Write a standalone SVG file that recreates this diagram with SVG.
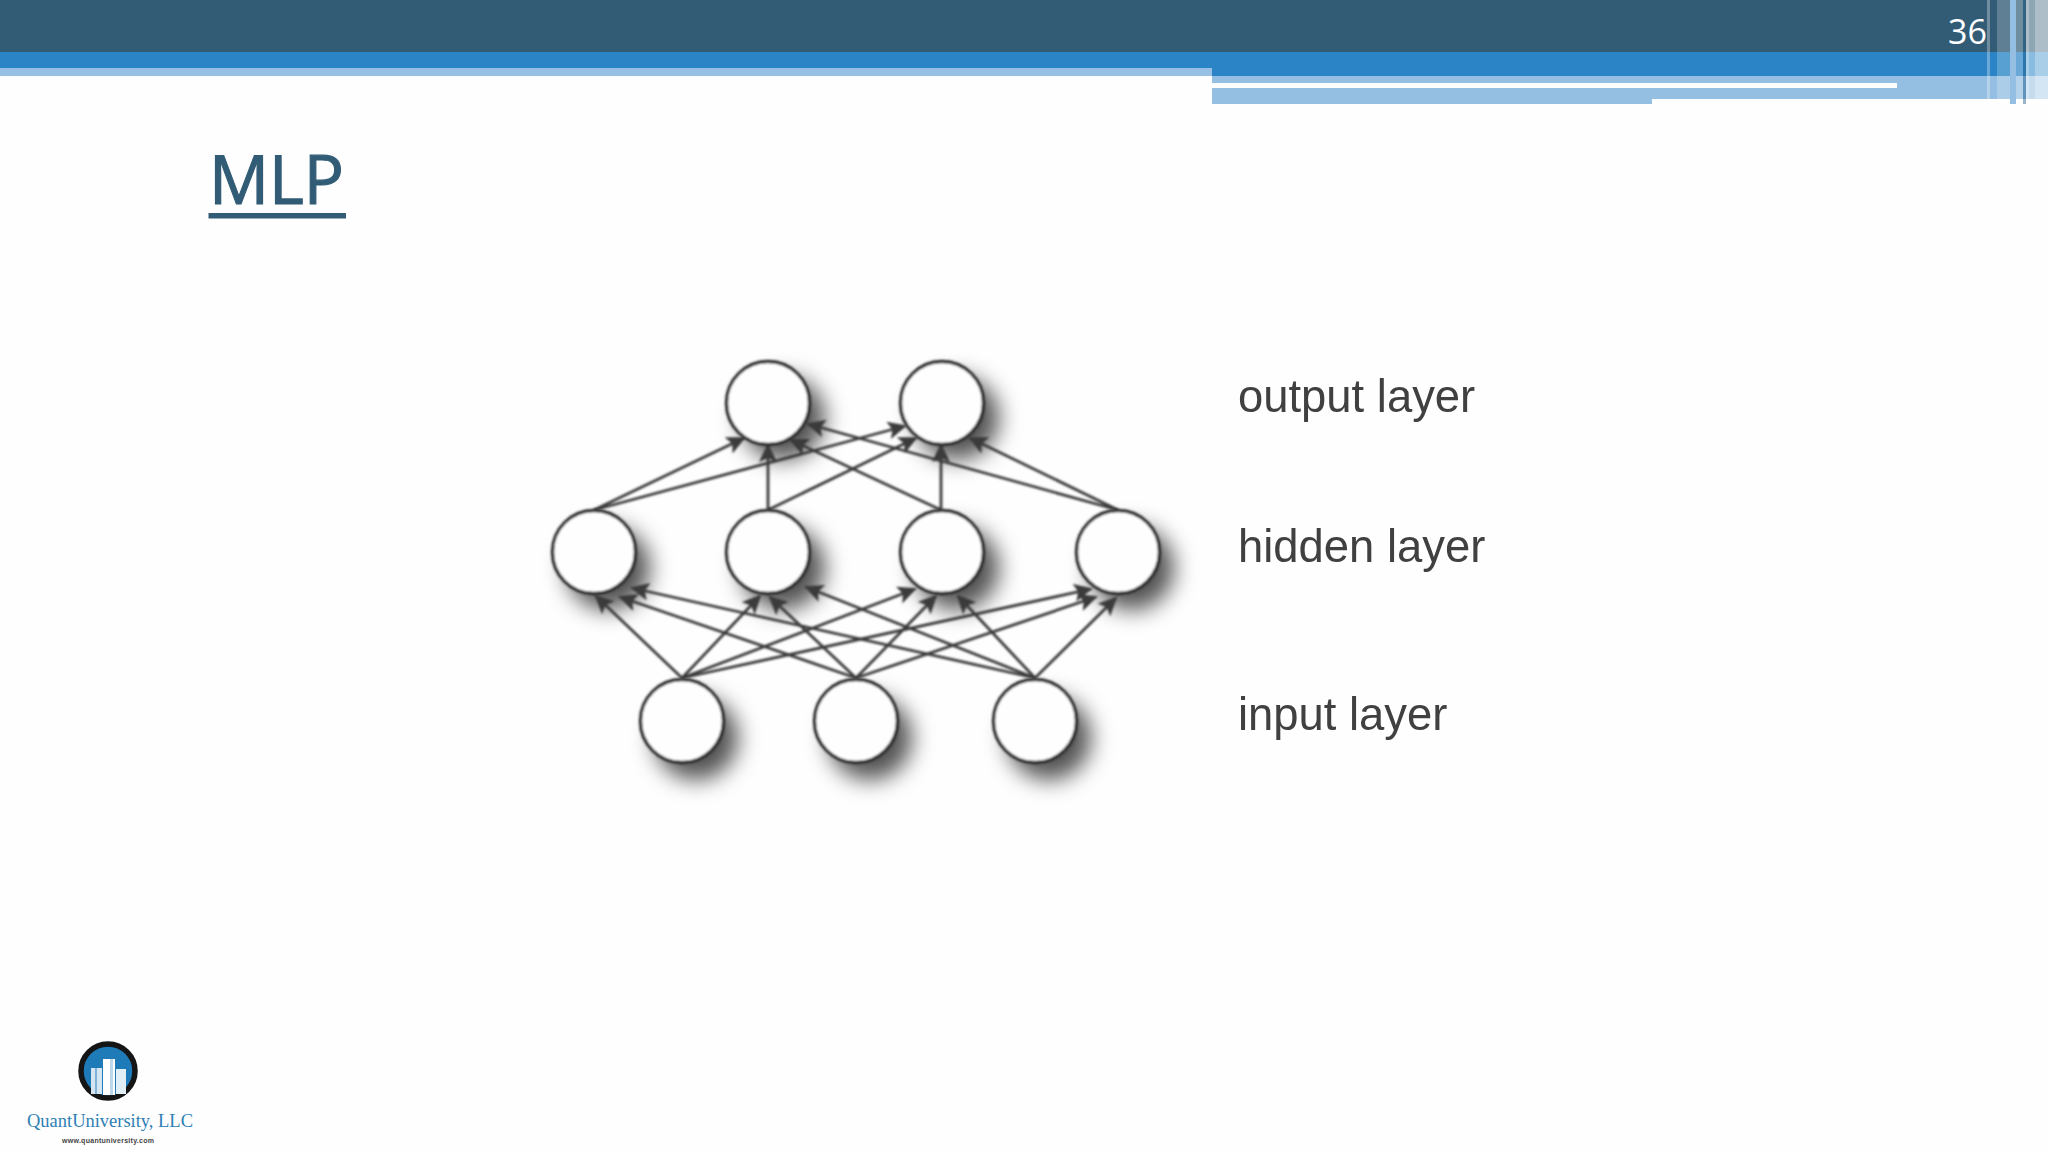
<svg xmlns="http://www.w3.org/2000/svg" width="2048" height="1152" viewBox="0 0 2048 1152">
<defs>
<filter id="sh" x="-60%" y="-60%" width="220%" height="220%"><feGaussianBlur stdDeviation="11"/></filter>
<filter id="soft" x="-10%" y="-10%" width="120%" height="120%"><feGaussianBlur stdDeviation="0.8"/></filter>
<filter id="softT" x="-5%" y="-20%" width="110%" height="140%"><feGaussianBlur stdDeviation="0.7"/></filter>
<marker id="ah" markerUnits="userSpaceOnUse" markerWidth="22" markerHeight="20" refX="17" refY="9" orient="auto"><path d="M0 0L19 9L0 18L4 9Z" fill="#3a3a3a"/></marker>
</defs>
<style>
.lbl{font-family:"Liberation Sans",Arial,sans-serif;font-size:45.400px;fill:#3f3f3f}
.n{fill:#fefefe;stroke:#2c2c2c;stroke-width:3.400}
.s{fill:#000;opacity:.68}
.c{stroke:#3a3a3a;stroke-width:2.800;fill:none;marker-end:url(#ah)}
.b{fill:#fff}
</style>
<rect width="2048" height="1152" fill="#fefefe"/>
<g id="header">
<rect x="0" y="0" width="2048" height="52" fill="#325c76"/>
<rect x="0" y="52" width="2048" height="24" fill="#2a84c6"/>
<rect x="0" y="68" width="1212" height="8" fill="#98c0e4"/>
<rect x="1212" y="76" width="836" height="28" fill="#95bfe2"/>
<rect x="1212" y="83" width="685" height="5" fill="#fff"/>
<rect x="1652" y="99" width="396" height="6" fill="#fff"/>
<rect x="1987" y="0" width="3" height="99" class="b" opacity=".3"/>
<rect x="1997" y="0" width="13" height="99" class="b" opacity=".22"/>
<rect x="2010" y="0" width="6" height="104" fill="#95bfe2"/>
<rect x="2016" y="0" width="7" height="104" class="b" opacity=".3"/>
<rect x="2023" y="0" width="3" height="104" fill="#2f6a94" opacity=".5"/>
<rect x="2026" y="0" width="3" height="104" class="b" opacity=".6"/>
<rect x="2029" y="0" width="6" height="104" class="b" opacity=".45"/>
<rect x="2035" y="0" width="13" height="99" class="b" opacity=".6"/>
<text x="1948" y="44" font-family="'Open Sans',sans-serif" font-size="34" fill="#fff">36</text>
</g>
<g id="title">
<text x="209" y="204" font-family="'Open Sans',sans-serif" font-size="67" fill="#325c76" stroke="#325c76" stroke-width="1.200" textLength="135" lengthAdjust="spacingAndGlyphs">MLP</text>
<rect x="208.500" y="213" width="137.500" height="5.500" fill="#325c76"/>
</g>
<g id="shadows" filter="url(#sh)">
<circle class="s" cx="783" cy="418" r="42"/><circle class="s" cx="957" cy="418" r="42"/>
<circle class="s" cx="608" cy="568" r="42"/><circle class="s" cx="783" cy="568" r="42"/><circle class="s" cx="957" cy="568" r="42"/><circle class="s" cx="1132" cy="568" r="42"/>
<circle class="s" cx="696" cy="738" r="42"/><circle class="s" cx="870" cy="738" r="42"/><circle class="s" cx="1049" cy="738" r="42"/>
</g>
<g id="connectors" filter="url(#soft)">
<line class="c" x1="594" y1="510" x2="744" y2="438"/>
<line class="c" x1="594" y1="510" x2="905" y2="426"/>
<line class="c" x1="768" y1="510" x2="768" y2="445"/>
<line class="c" x1="768" y1="510" x2="916" y2="438"/>
<line class="c" x1="941" y1="510" x2="791" y2="440"/>
<line class="c" x1="941" y1="510" x2="941" y2="445"/>
<line class="c" x1="1118" y1="510" x2="808" y2="424"/>
<line class="c" x1="1118" y1="510" x2="970" y2="438"/>
<line class="c" x1="682" y1="678" x2="596" y2="596"/>
<line class="c" x1="682" y1="678" x2="760" y2="596"/>
<line class="c" x1="682" y1="678" x2="915" y2="589"/>
<line class="c" x1="682" y1="678" x2="1091" y2="589"/>
<line class="c" x1="856" y1="678" x2="620" y2="597"/>
<line class="c" x1="856" y1="678" x2="770" y2="597"/>
<line class="c" x1="856" y1="678" x2="936" y2="596"/>
<line class="c" x1="856" y1="678" x2="1096" y2="597"/>
<line class="c" x1="1035" y1="678" x2="632" y2="588"/>
<line class="c" x1="1035" y1="678" x2="806" y2="587"/>
<line class="c" x1="1035" y1="678" x2="958" y2="596"/>
<line class="c" x1="1035" y1="678" x2="1116" y2="598"/>
</g>
<g id="out1" filter="url(#soft)"><circle class="n" cx="768" cy="403" r="41.500"/></g>
<g id="out2" filter="url(#soft)"><circle class="n" cx="942" cy="403" r="41.500"/></g>
<g id="hid1" filter="url(#soft)"><circle class="n" cx="594" cy="552" r="41.500"/></g>
<g id="hid2" filter="url(#soft)"><circle class="n" cx="768" cy="552" r="41.500"/></g>
<g id="hid3" filter="url(#soft)"><circle class="n" cx="942" cy="552" r="41.500"/></g>
<g id="hid4" filter="url(#soft)"><circle class="n" cx="1118" cy="552" r="41.500"/></g>
<g id="in1" filter="url(#soft)"><circle class="n" cx="682" cy="721" r="41.500"/></g>
<g id="in2" filter="url(#soft)"><circle class="n" cx="856" cy="721" r="41.500"/></g>
<g id="in3" filter="url(#soft)"><circle class="n" cx="1035" cy="721" r="41.500"/></g>
<g id="labels" filter="url(#softT)">
<text class="lbl" x="1238" y="412">output layer</text>
<text class="lbl" x="1238" y="562">hidden layer</text>
<text class="lbl" x="1238" y="730">input layer</text>
</g>
<g id="logo">
<circle cx="108" cy="1071" r="27" fill="#1f7ab8" stroke="#151515" stroke-width="5.500"/>
<rect x="91" y="1068" width="11" height="26" fill="#d5e6f2"/>
<rect x="103" y="1059" width="12" height="36" fill="#fff"/>
<rect x="116" y="1069" width="10" height="25" fill="#e3eff7"/>
<rect x="95" y="1068" width="2" height="26" fill="#7fb2d6"/>
<rect x="110" y="1059" width="3" height="36" fill="#bcd8ea"/>
<text x="27" y="1127" font-family="'Liberation Serif',serif" font-size="18.500" fill="#2e80b5" textLength="166">QuantUniversity, LLC</text>
<text x="62" y="1143" font-family="'Liberation Sans',sans-serif" font-size="7" font-weight="bold" fill="#444" textLength="92">www.quantuniversity.com</text>
</g>
</svg>
